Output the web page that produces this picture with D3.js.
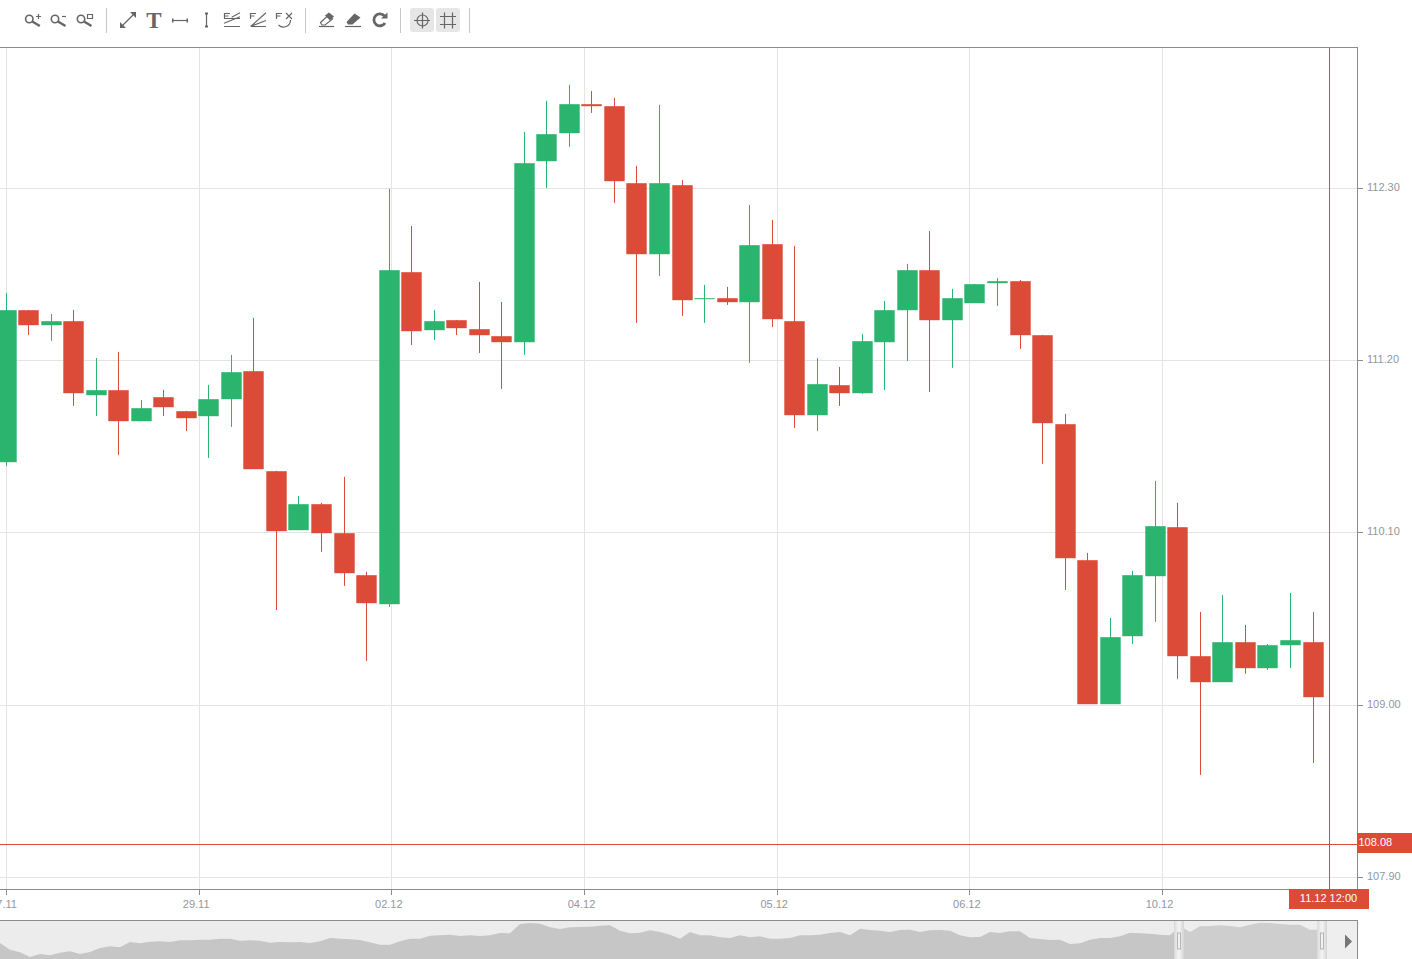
<!DOCTYPE html>
<html><head><meta charset="utf-8">
<script src="https://cdn.jsdelivr.net/npm/d3@7/dist/d3.min.js"></script>
<style>html,body{margin:0;padding:0;background:#fff;overflow:hidden}svg{display:block}text{font-family:"Liberation Sans",Arial,sans-serif}</style>
</head><body><svg id="c" width="1412" height="959"></svg>
<script>
// Candle values (one entry per bar)
const opens=[110.550,111.521,111.425,111.451,110.978,111.010,110.812,110.965,110.876,110.844,110.953,111.131,110.493,110.116,110.282,110.097,109.829,109.644,111.764,111.393,111.457,111.400,111.355,111.317,112.472,112.651,112.836,112.824,112.332,111.878,112.319,111.591,111.598,111.572,111.942,111.451,110.850,111.042,110.991,111.317,111.521,111.776,111.457,111.566,111.693,111.706,111.361,110.793,109.925,109.005,109.439,109.822,110.135,109.311,109.146,109.401,109.235,109.382,109.401];
const closes=[111.521,111.425,111.451,110.991,111.010,110.812,110.895,110.902,110.831,110.953,111.125,110.506,110.110,110.282,110.097,109.842,109.650,111.776,111.387,111.451,111.406,111.361,111.317,112.460,112.645,112.836,112.824,112.345,111.878,112.332,111.585,111.598,111.572,111.936,111.463,110.850,111.048,110.991,111.323,111.521,111.776,111.457,111.598,111.687,111.706,111.361,110.799,109.937,109.005,109.433,109.829,110.142,109.311,109.146,109.401,109.235,109.382,109.414,109.050];
const highs=[111.629,111.521,111.495,111.521,111.214,111.253,110.946,111.010,110.876,111.042,111.234,111.470,110.493,110.333,110.289,110.455,109.848,112.294,112.057,111.521,111.457,111.700,111.572,112.658,112.856,112.958,112.919,112.875,112.441,112.830,112.351,111.681,111.668,112.191,112.096,111.930,111.214,111.157,111.368,111.578,111.815,112.025,111.655,111.687,111.725,111.712,111.361,110.857,109.969,109.554,109.854,110.429,110.289,109.593,109.701,109.509,109.388,109.714,109.593];
const lows=[110.525,111.361,111.323,110.908,110.844,110.595,110.812,110.844,110.748,110.576,110.774,110.506,109.605,110.116,109.976,109.759,109.280,109.624,111.297,111.329,111.361,111.246,111.017,111.234,112.300,112.562,112.779,112.204,111.438,111.738,111.483,111.438,111.553,111.183,111.412,110.767,110.748,110.908,110.985,111.010,111.195,110.997,111.151,111.566,111.546,111.272,110.538,109.733,109.005,109.005,109.388,109.529,109.165,108.552,109.146,109.197,109.222,109.235,108.628];
// Axis labels
const priceTicks=[112.30,111.20,110.10,109.00,107.90];
const dateLabels=["27.11","29.11","02.12","04.12","05.12","06.12","10.12"];
const datePositions=[0,8.55,17.1,25.65,34.2,42.75,51.3];
// Crosshair readouts
const crossPrice=108.105, crossPriceLabel="108.08", crossBar=58.75, crossBarLabel="11.12 12:00";
// Navigator history level (relative height of the overview area, evenly spaced samples)
const navLevels=[16,9.3,6.7,2,5,3.7,6.3,7.7,5,7,11,12.7,11.7,17,15.7,17.3,17.7,17,18.7,18.7,19.3,19.3,20.3,20.3,18.3,18.7,18.3,16.3,17,16.7,17,16,17.7,21,20.3,
19.7,19,16.7,14.3,14.3,17.7,20.3,20.3,23.3,23.7,24.3,23,23.7,23,23.7,26,25.7,35,36,35.3,31.7,30,31.7,32,32.3,33.3,33.7,28.3,25.7,26.3,28.7,27,24.3,20.3,
27,23.7,23.7,21.7,21,23.7,21.7,22.7,20.3,20.3,21,23.7,23.7,24.3,26,27,23.7,30.3,29,28.3,27,29,29.3,27,28.7,29,28.3,23.7,21.7,22,27,26,27.7,27.7,
21,20,19,19.3,15,15.7,19.3,21,21,22.7,26.3,25.7,25.3,24.3,23.7,33,27,32.7,33,33.7,33,31.7,34.3,36.3,36,35,34.3,34.3,29.3,29.3];

const RED="#dc4a38",GREEN="#2ab46e",GRID="#e4e4e4",AXIS="#8c8c8c",TXT="#8f989f",ICON="#666";
const L=0,R=1357,T=47,B=889;
const svg=d3.select("#c");
const x=d3.scaleLinear().domain([0,58]).range([6,1313]);
const y=d3.scaleLinear().domain([107.90,112.30]).range([877,187.9]);
const crisp=v=>Math.round(v)+.5;
const half=v=>Math.floor(v)+.5;
const edge=v=>Math.round(v)+.2;
const plot=svg.append("g");
svg.append("clipPath").attr("id","pc").append("rect").attr("x",0).attr("y",T).attr("width",R).attr("height",B-T);

// grid
plot.selectAll(".gy").data(priceTicks).join("line").attr("x1",L).attr("x2",R)
 .attr("y1",d=>crisp(y(d))).attr("y2",d=>crisp(y(d))).attr("stroke",GRID);
plot.selectAll(".gx").data(datePositions).join("line").attr("y1",T).attr("y2",B)
 .attr("x1",d=>crisp(x(d))).attr("x2",d=>crisp(x(d))).attr("stroke",GRID);

// candles
const bars=d3.range(opens.length).map(i=>({i,o:opens[i],c:closes[i],h:highs[i],l:lows[i]}));
const g=plot.append("g").attr("clip-path","url(#pc)").selectAll("g").data(bars).join("g")
 .attr("fill",d=>d.c>=d.o?GREEN:RED).attr("stroke",d=>d.c>=d.o?GREEN:RED);
g.append("line").attr("x1",d=>half(x(d.i))).attr("x2",d=>half(x(d.i))).attr("y1",d=>y(d.h)).attr("y2",d=>y(d.l));
g.append("rect").attr("stroke","none").attr("x",d=>half(x(d.i))-10.2).attr("width",20.4)
 .attr("y",d=>edge(y(Math.max(d.o,d.c))))
 .attr("height",d=>Math.max(1,edge(y(Math.min(d.o,d.c)))-edge(y(Math.max(d.o,d.c)))));

// frame
const fr=svg.append("g").attr("stroke",AXIS).attr("fill","none");
fr.append("line").attr("x1",0).attr("x2",R+.5).attr("y1",T+.5).attr("y2",T+.5);
fr.append("line").attr("x1",0).attr("x2",R+.5).attr("y1",B+.5).attr("y2",B+.5);
fr.append("line").attr("x1",R+.5).attr("x2",R+.5).attr("y1",T).attr("y2",B);

// price axis
const ya=svg.append("g").selectAll("g").data(priceTicks).join("g");
ya.append("line").attr("x1",R).attr("x2",R+6).attr("y1",d=>crisp(y(d))).attr("y2",d=>crisp(y(d))).attr("stroke",AXIS);
ya.append("text").attr("x",1367).attr("y",d=>Math.round(y(d))+3).attr("font-size",11).attr("fill",TXT).text(d=>d.toFixed(2));

// date axis
const xa=svg.append("g").selectAll("g").data(dateLabels).join("g");
xa.append("line").attr("x1",(d,i)=>crisp(x(datePositions[i]))).attr("x2",(d,i)=>crisp(x(datePositions[i]))).attr("y1",B).attr("y2",B+6).attr("stroke",AXIS);
xa.append("text").attr("x",(d,i)=>x(datePositions[i])-2.5).attr("y",908).attr("text-anchor","middle").attr("font-size",11).attr("fill",TXT).text(d=>d);

// crosshair
const cp=Math.floor(y(crossPrice)), cb=Math.floor(x(crossBar));
svg.append("rect").attr("x",0).attr("width",R).attr("y",cp).attr("height",1).attr("fill",RED).attr("shape-rendering","crispEdges");
svg.append("rect").attr("x",cb).attr("width",1).attr("y",T+1).attr("height",B-T-1).attr("fill",RED).attr("shape-rendering","crispEdges");
svg.append("rect").attr("x",R).attr("y",833).attr("width",55).attr("height",20).attr("fill",RED);
svg.append("text").attr("x",1358.5).attr("y",846).attr("font-size",11).attr("fill","#fff").text(crossPriceLabel);
svg.append("rect").attr("x",1289).attr("y",889).attr("width",80).attr("height",20).attr("fill",RED);
svg.append("text").attr("x",1328.5).attr("y",902).attr("font-size",11).attr("text-anchor","middle").attr("fill","#fff").text(crossBarLabel);

// navigator
const NT=921,NB=959;
const nx=d3.scaleLinear().domain([0,navLevels.length-1]).range([0,1320]);
const ny=d3.scaleLinear().domain([0,38]).range([NB,NT]);
svg.append("rect").attr("x",0).attr("y",NT).attr("width",R).attr("height",NB-NT).attr("fill","#ececec");
const area=d3.area().x((d,i)=>nx(i)).y0(NB).y1(d=>ny(d));
svg.append("path").attr("d",area(navLevels)).attr("fill","#c6c6c6");
svg.append("rect").attr("x",1174).attr("y",NT).attr("width",153).attr("height",NB-NT).attr("fill","#fff").attr("opacity",.15);
svg.append("line").attr("x1",0).attr("x2",R+.5).attr("y1",NT-.5).attr("y2",NT-.5).attr("stroke",AXIS);
svg.append("line").attr("x1",R+.5).attr("x2",R+.5).attr("y1",NT-1).attr("y2",NB).attr("stroke",AXIS);
const grad=svg.append("linearGradient").attr("id","hg");
grad.append("stop").attr("offset",0).attr("stop-color","#d9d9d9");
grad.append("stop").attr("offset",.5).attr("stop-color","#f4f4f4");
grad.append("stop").attr("offset",1).attr("stop-color","#d4d4d4");
[1174,1317].forEach(hx=>{
 svg.append("rect").attr("x",hx).attr("y",NT).attr("width",10).attr("height",NB-NT).attr("fill","url(#hg)");
 svg.append("rect").attr("x",hx+3.5).attr("y",933).attr("width",3).attr("height",16).attr("fill","none").attr("stroke","#b5b5b5").attr("stroke-width",1);
});
svg.append("rect").attr("x",1327).attr("y",NT).attr("width",30).attr("height",NB-NT).attr("fill","#eeeeee");
svg.append("path").attr("d","M1345 934.500L1352 941.500L1345 948.500Z").attr("fill","#777");

// toolbar
const tb=svg.append("g").attr("fill","none").attr("stroke",ICON).attr("stroke-width",1.2);
[106,305,400,469].forEach(s=>tb.append("line").attr("x1",s+.5).attr("x2",s+.5).attr("y1",8).attr("y2",33).attr("stroke","#c8c8c8").attr("stroke-width",1));
tb.append("rect").attr("x",410).attr("y",8).attr("width",24).attr("height",24).attr("rx",3).attr("fill","#e6e6e6").attr("stroke","none");
tb.append("rect").attr("x",436).attr("y",8).attr("width",24).attr("height",24).attr("rx",3).attr("fill","#e6e6e6").attr("stroke","none");
// magnifiers
[29.3,55,81].forEach(cx=>{
 tb.append("circle").attr("cx",cx).attr("cy",19).attr("r",3.7).attr("stroke-width",1.6);
 tb.append("path").attr("d",`M${cx+3} 21.500L${cx+10.500} 26`).attr("stroke-width",2.4);
});
const icons=[
 "M36 16.500h5M38.500 14v5","M62 16.500h4","M87.500 14.500h5v4h-5z",
 "M121 27L135 13","M172.500 20.500h15","M206.500 13v14",
 "M224 26.500h16M224 18.500h16M224 23.300L240 16.700M231.700 17.300L240 12.700",
 "M250.700 26.500H266M250.700 26.500L266 12.700M250.700 26.500L266 20.500",
 "M286 13L292 19M292 13L286 19M278.500 25A7 7 0 0 0 290.500 20",
 "M319 26.500h15","M345 26.500h16",
 "M440 16.500h16M440 24.500h16M444.500 12.500v16M452.500 12.500v16",
 "M414 20.500h16M422.500 12.500v16"
];
tb.selectAll(".ic").data(icons).join("path").attr("d",d=>d);
tb.append("circle").attr("cx",422.5).attr("cy",20.5).attr("r",5.5);
// arrow heads and line ends
const solid=[
 "M120 28v-6l6 6ZM136 12v6l-6-6Z","M172 18.500h1.500v4H172ZM186.500 18.500H188v4h-1.500Z","M205 12.500h3V14.500h-3ZM205 25.500h3v2h-3Z"
];
tb.selectAll(".so").data(solid).join("path").attr("d",d=>d).attr("fill",ICON).attr("stroke","none");
// Fib "F" marks
[224,250,276].forEach(fx=>tb.append("path").attr("stroke-width",1.2).attr("d",`M${fx+6} 13.500h-5.500v5.500M${fx+.5} 16h4`));
// erasers
tb.append("path").attr("d","M320.500 22.500L328 15.500L332.500 19L325 25H322Z").attr("fill","#fff");
tb.append("path").attr("d","M325 15.500L329 12.500L334 16.500L330 20.500Z").attr("fill",ICON).attr("stroke","none");
tb.append("path").attr("d","M346.500 22L354.500 13.500L360.500 17.500L352.500 24.500H348Z").attr("fill",ICON).attr("stroke","none");
// reload
tb.append("path").attr("d","M384.500 16A6 6 0 1 0 385 23").attr("stroke-width",2.8);
tb.append("path").attr("d","M381 18.500L387.500 12.500V18.500Z").attr("fill",ICON).attr("stroke","none");
tb.append("text").attr("x",154).attr("y",27.500).attr("text-anchor","middle").attr("font-weight","bold").attr("font-size",23).attr("fill",ICON).attr("stroke","none").style("font-family","'Liberation Serif'").text("T");
</script></body></html>
